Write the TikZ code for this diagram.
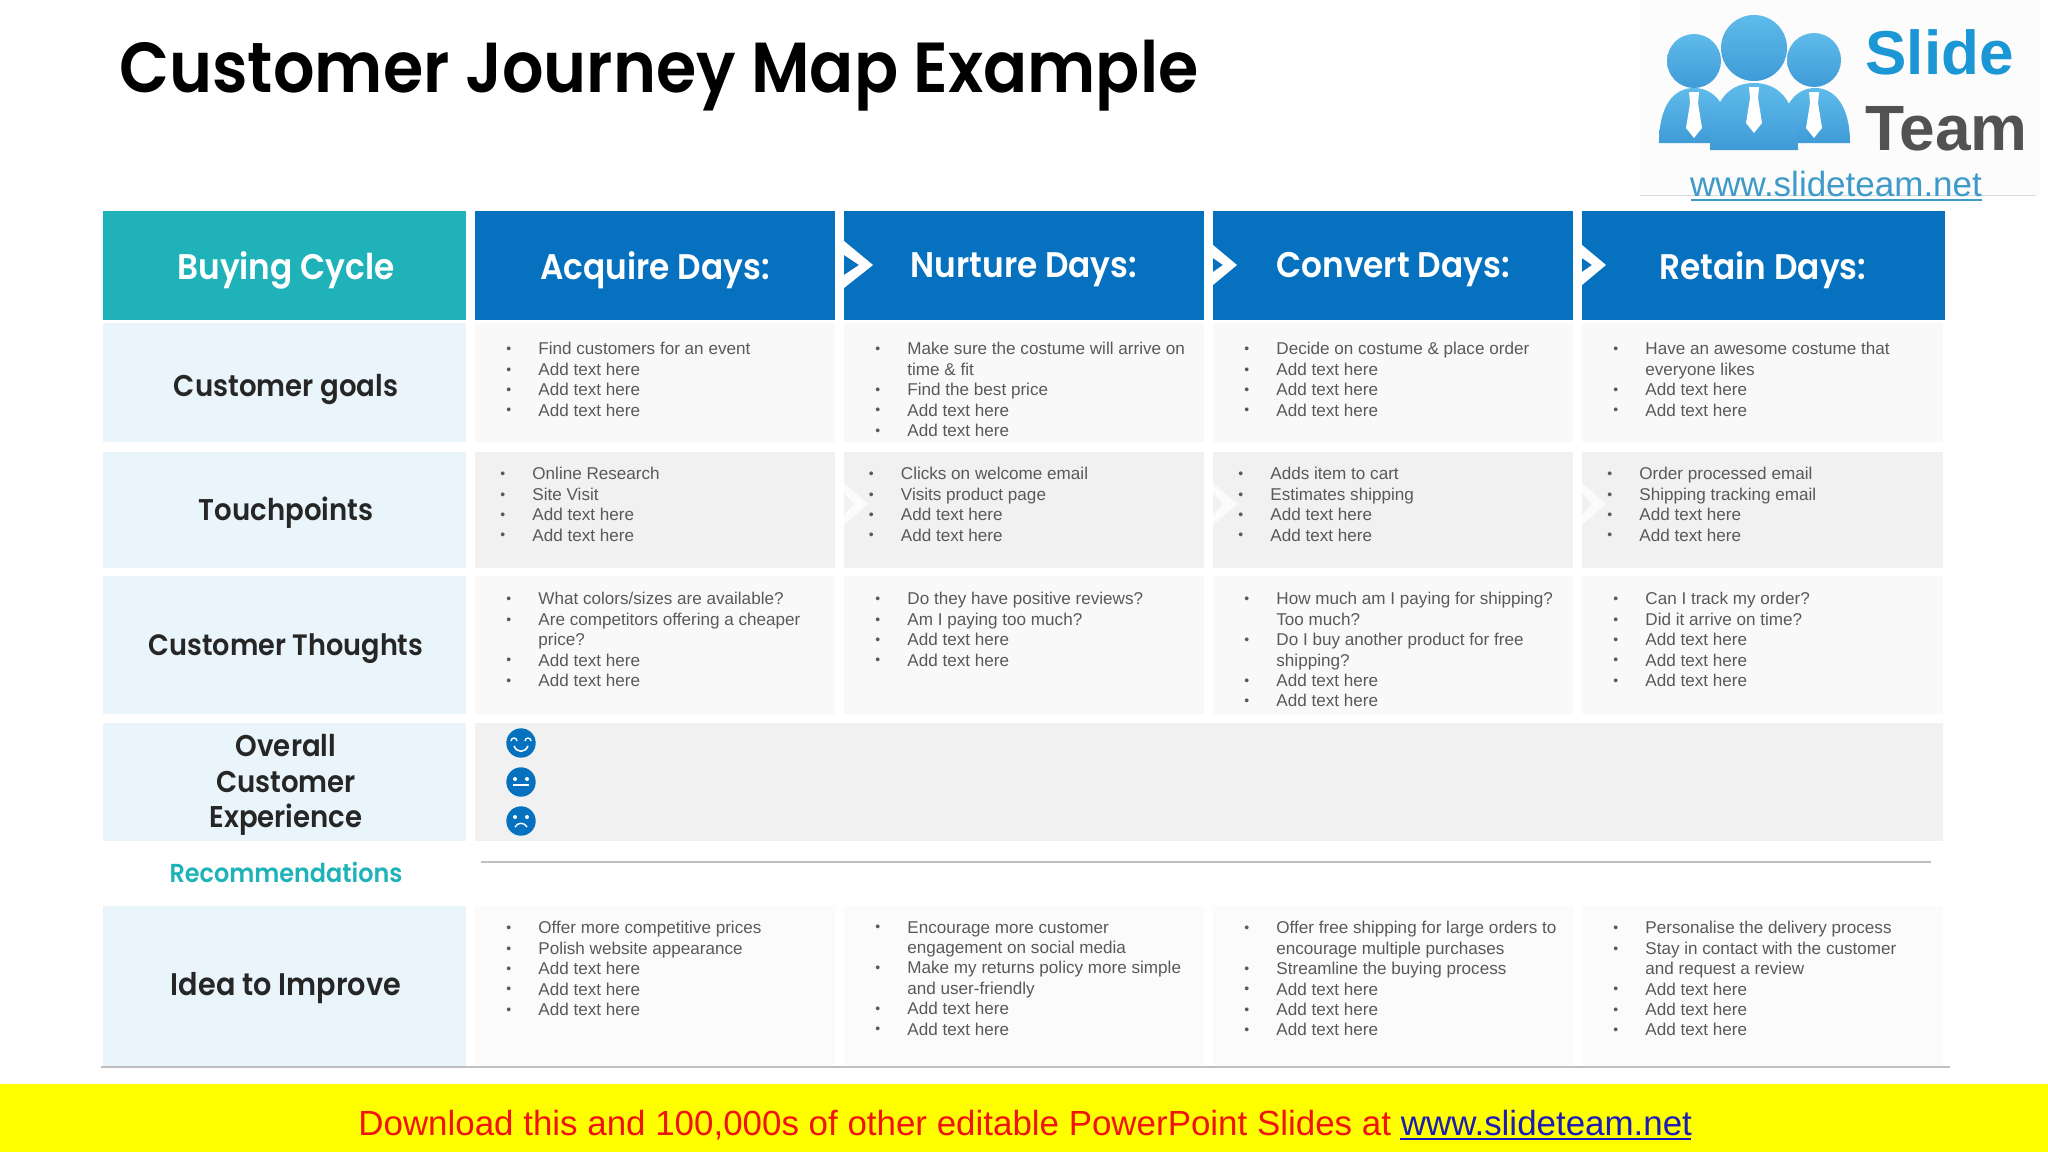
\documentclass[tikz,border=0pt]{standalone}
\usepackage{fontspec}
\setmainfont{Liberation Sans}
\newfontfamily\gothic[FakeStretch=0.92]{Poppins SemiBold}
\usetikzlibrary{positioning}

\definecolor{headblue}{HTML}{0672BF}
\definecolor{headteal}{HTML}{1FB2B8}
\definecolor{sidepale}{HTML}{E9F5FA}
\definecolor{cellpale}{HTML}{F9F9F9}
\definecolor{cellgrey}{HTML}{F1F1F1}
\definecolor{bodygrey}{HTML}{595959}
\definecolor{logotop}{HTML}{5FBBEA}
\definecolor{logolow}{HTML}{3F9BD6}
\definecolor{linkblue}{HTML}{3F9AC9}
\definecolor{slideblue}{HTML}{1A97D4}
\definecolor{barred}{HTML}{F0140F}
\definecolor{barlink}{HTML}{1C1CB4}
\definecolor{baryellow}{rgb}{1,1,0}

\tikzset{
  sidetext/.style={inner sep=0pt,align=center,text=black!85,font=\gothic\fontsize{15}{17.9}\selectfont},
  celltext/.style={inner sep=0pt,anchor=north west,align=left,text=bodygrey,font=\fontsize{8.55}{10.2}\selectfont},
  headtext/.style={inner sep=0pt,text=white,font=\gothic\fontsize{17.8}{20}\selectfont},
  logopart/.style={top color=logotop,bottom color=logolow,draw=none},
}
\newcommand{\bl}{\leavevmode\llap{\raisebox{0.6pt}{\fontsize{7}{7}\selectfont •}\hspace{13.6pt}}}

\begin{document}
\begin{tikzpicture}[x=0.5pt,y=-0.5pt]
\useasboundingbox (0,0) rectangle (2048,1152);

% title
\node[inner sep=0pt,anchor=west,font=\gothic\fontsize{35.4}{40}\selectfont] (title) at (119,76) {Customer Journey Map Example};

% logo
\fill[black!1] (1640,0) rectangle (2040,195);
\shade[logopart] (1694,61) circle (27);
\shade[logopart] (1814,60) circle (27);
\shade[logopart] (1659,143) .. controls (1659,108) and (1672,88) .. (1694,88) .. controls (1716,88) and (1730,108) .. (1730,143) -- cycle;
\shade[logopart] (1780,143) .. controls (1780,108) and (1794,88) .. (1815,88) .. controls (1836,88) and (1850,108) .. (1850,143) -- cycle;
\shade[logopart] (1754,48) circle (33);
\shade[logopart] (1710,150) .. controls (1710,105) and (1726,83) .. (1754,83) .. controls (1782,83) and (1798,105) .. (1798,150) -- cycle;
% ties
\foreach \tx/\ty in {1694/92,1754/87,1814/92}{
  \fill[white] (\tx-5,\ty) -- (\tx+5,\ty) -- (\tx+4,\ty+11) -- (\tx+8,\ty+36) -- (\tx,\ty+46) -- (\tx-8,\ty+36) -- (\tx-4,\ty+11) -- cycle;
}
\node[inner sep=0pt,anchor=west,text=slideblue,font=\bfseries\fontsize{31}{31}\selectfont] (logoa) at (1865,52) {Slide};
\node[inner sep=0pt,anchor=west,font=\bfseries\fontsize{32}{32}\selectfont,text=black!68] (logob) at (1865,129) {Team};
\draw[black!15] (1640,195) -- (2036,195);
\node[inner sep=0pt,text=linkblue,font=\fontsize{17.5}{20}\selectfont] (logoc) at (1836,184) {www.slideteam.net};
\draw[linkblue,line width=0.8pt] (1691,200) -- (1982,200);

% header row
\fill[headteal] (103,211) rectangle (466,320);
\foreach \xa/\xb in {475/835,844/1204,1213/1573,1582/1945}{
  \fill[headblue] (\xa,211) rectangle (\xb,320);
}
\node[headtext] (buying) at (286,270) {Buying Cycle};
\node[headtext] (acquire) at (655,270) {Acquire Days:};
\node[headtext] (nurture) at (1024,270) {Nurture Days:};
\node[headtext] (convert) at (1393,270) {Convert Days:};
\node[headtext] (retain) at (1763,270) {Retain Days:};

% chevrons on the header
\fill[white] (844,241) -- (873,265) -- (844,288) -- (844,275) -- (859,265) -- (844,255) -- cycle;
\foreach \x in {1213,1582}{
  \fill[white] (\x,245) -- (\x+24,265) -- (\x,285) -- (\x,272) -- (\x+10,265) -- (\x,258) -- cycle;
}

% side column
\foreach \ya/\yb in {323/442,452/568,576/714,723/841,906/1066}{
  \fill[sidepale] (103,\ya) rectangle (466,\yb);
}
\node[sidetext] (goals) at (286,389) {Customer goals};
\node[sidetext] (touch) at (286,513) {Touchpoints};
\node[sidetext,font=\gothic\fontsize{14.75}{17.9}\selectfont] (thoughts) at (286,649) {Customer Thoughts};
\node[sidetext] (overall) at (286,785) {Overall\\Customer\\Experience};
\node[sidetext,text=headteal,font=\gothic\fontsize{13}{16}\selectfont] (recomm) at (286,872) {Recommendations};
\node[sidetext,font=\gothic\fontsize{15.6}{17.9}\selectfont] (idea) at (286,988) {Idea to Improve};

% cells
\foreach \xa/\xb in {475/835,844/1204,1213/1573,1582/1943}{
  \fill[cellpale] (\xa,323) rectangle (\xb,442);
  \fill[cellgrey] (\xa,452) rectangle (\xb,568);
  \fill[cellpale] (\xa,576) rectangle (\xb,714);
  \fill[cellpale!70!white] (\xa,906) rectangle (\xb,1066);
}
% pale chevrons on touchpoints
\foreach \x in {844,1213,1582}{
  \fill[white!70!cellgrey] (\x,483) -- (\x+24,504) -- (\x,525) -- (\x,515) -- (\x+10,504) -- (\x,493) -- cycle;
}
\fill[cellgrey] (475,723) rectangle (1943,841);

% customer goals
\node[celltext] (goalsa) at (538,342) {\bl Find customers for an event\\\bl Add text here\\\bl Add text here\\\bl Add text here};
\node[celltext] (goalsb) at (907,342) {\bl Make sure the costume will arrive on\\time \& fit\\\bl Find the best price\\\bl Add text here\\\bl Add text here};
\node[celltext] (goalsc) at (1276,342) {\bl Decide on costume \& place order\\\bl Add text here\\\bl Add text here\\\bl Add text here};
\node[celltext] (goalsd) at (1645,342) {\bl Have an awesome costume that\\everyone likes\\\bl Add text here\\\bl Add text here};

% touchpoints
\node[celltext] (toucha) at (532,467) {\bl Online Research\\\bl Site Visit\\\bl Add text here\\\bl Add text here};
\node[celltext] (touchb) at (900.5,467) {\bl Clicks on welcome email\\\bl Visits product page\\\bl Add text here\\\bl Add text here};
\node[celltext] (touchc) at (1270,467) {\bl Adds item to cart\\\bl Estimates shipping\\\bl Add text here\\\bl Add text here};
\node[celltext] (touchd) at (1639,467) {\bl Order processed email\\\bl Shipping tracking email\\\bl Add text here\\\bl Add text here};

% customer thoughts
\node[celltext] (thinka) at (538,592) {\bl What colors/sizes are available?\\\bl Are competitors offering a cheaper\\price?\\\bl Add text here\\\bl Add text here};
\node[celltext] (thinkb) at (907,592) {\bl Do they have positive reviews?\\\bl Am I paying too much?\\\bl Add text here\\\bl Add text here};
\node[celltext] (thinkc) at (1276,592) {\bl How much am I paying for shipping?\\Too much?\\\bl Do I buy another product for free\\shipping?\\\bl Add text here\\\bl Add text here};
\node[celltext] (thinkd) at (1645,592) {\bl Can I track my order?\\\bl Did it arrive on time?\\\bl Add text here\\\bl Add text here\\\bl Add text here};

% smileys
\foreach \y in {743,782,821}{
  \fill[headblue] (521,\y) circle (14.7);
}
\draw[white,line width=0.7pt] (511,741) arc (180:360:3) (525,741) arc (180:360:3);
\draw[white,line width=0.8pt] (514,746) .. controls (517,753) and (525,753) .. (528,746);
\fill[white] (515,779) circle (2) (527,779) circle (2);
\draw[white,line width=0.7pt] (513,785) -- (529,785);
\draw[white,line width=0.7pt] (515,827) .. controls (518,822) and (524,822) .. (527,827);
\fill[white] (515,817) circle (2) (527,817) circle (2);

% line next to recommendations
\draw[black!25,line width=0.7pt] (481,862) -- (1931,862);

% idea to improve
\node[celltext] (ideaa) at (538,921) {\bl Offer more competitive prices\\\bl Polish website appearance\\\bl Add text here\\\bl Add text here\\\bl Add text here};
\node[celltext] (ideab) at (907,921) {\bl Encourage more customer\\engagement on social media\\\bl Make my returns policy more simple\\and user-friendly\\\bl Add text here\\\bl Add text here};
\node[celltext] (ideac) at (1276,921) {\bl Offer free shipping for large orders to\\encourage multiple purchases\\\bl Streamline the buying process\\\bl Add text here\\\bl Add text here\\\bl Add text here};
\node[celltext] (idead) at (1645,921) {\bl Personalise the delivery process\\\bl Stay in contact with the customer\\and request a review\\\bl Add text here\\\bl Add text here\\\bl Add text here};

% bottom line
\draw[black!25,line width=0.8pt] (101,1067) -- (1950,1067);

% yellow bar
\fill[baryellow] (0,1084) rectangle (2048,1152);
\node[inner sep=0pt,anchor=west,font=\fontsize{17.46}{20}\selectfont,text=barred] (download) at (358,1125) {Download this and 100,000s of other editable PowerPoint Slides at \textcolor{barlink}{www.slideteam.net}};
\draw[barlink,line width=0.9pt] (1400,1139) -- (1691,1139);

\end{tikzpicture}
\end{document}
